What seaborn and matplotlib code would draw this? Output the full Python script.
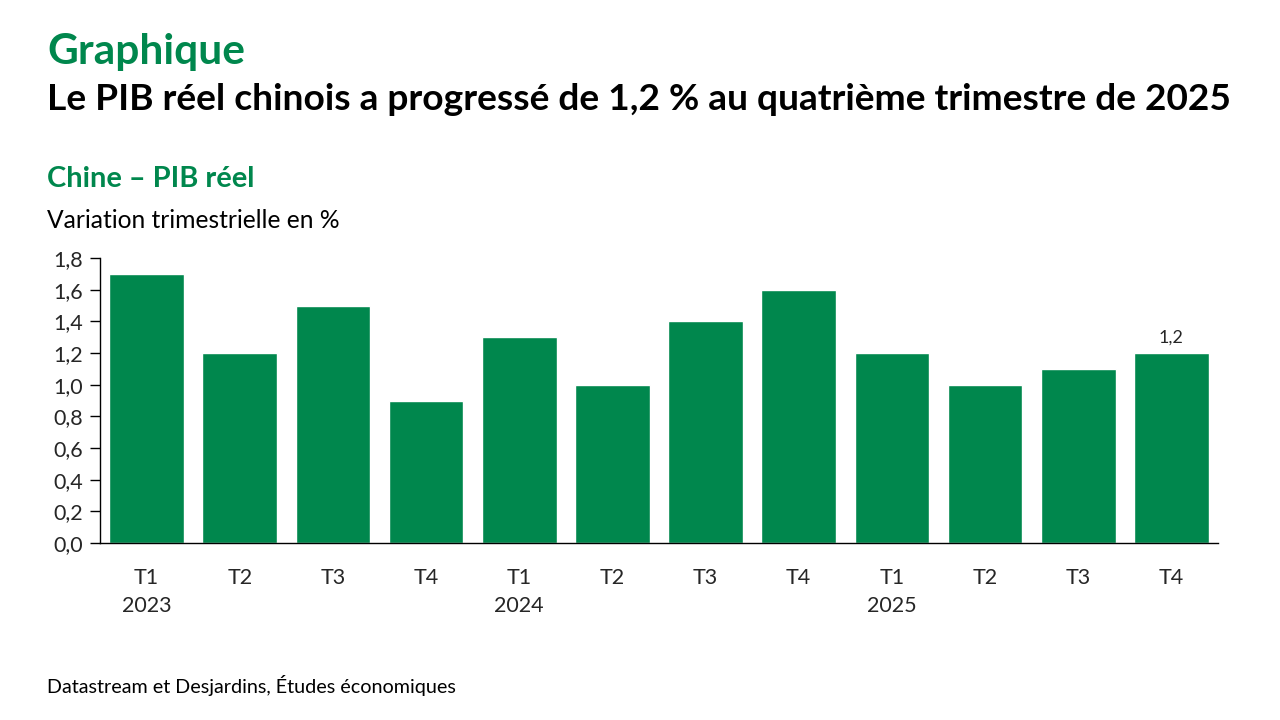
import matplotlib
matplotlib.use("Agg")
import matplotlib.pyplot as plt
import seaborn as sns
import pandas as pd

quarters = ["T1", "T2", "T3", "T4", "T1", "T2", "T3", "T4", "T1", "T2", "T3", "T4"]
years = ["2023", "", "", "", "2024", "", "", "", "2025", "", "", ""]
values = [1.7, 1.2, 1.5, 0.9, 1.3, 1.0, 1.4, 1.6, 1.2, 1.0, 1.1, 1.2]
yticks = [0.0, 0.2, 0.4, 0.6, 0.8, 1.0, 1.2, 1.4, 1.6, 1.8]

GREEN = "#00874D"
sns.set_theme(style="white")
plt.rcParams['font.family'] = ['Lato', 'DejaVu Sans']

labels = [f"{q}\n{y}" if y else q for q, y in zip(quarters, years)]
df = pd.DataFrame({"idx": [str(i) for i in range(len(values))], "val": values})

fig = plt.figure(figsize=(12.8, 7.2), dpi=100)
ax = fig.add_axes([100/1280, 1-543/720, 1118/1280, 285/720])
sns.barplot(data=df, x="idx", y="val", color=GREEN, saturation=1, width=0.8, ax=ax)

ax.set_ylim(0, 1.8)
ax.set_xlim(-0.5, len(values) - 0.5)
ax.set_yticks(yticks)
ax.set_yticklabels([f"{v:.1f}".replace(".", ",") for v in yticks], fontsize=15.5)
ax.set_xticks(range(len(values)))
ax.set_xticklabels(labels, fontsize=15.5, linespacing=1.5)
ax.tick_params(axis="y", which="major", left=True, length=7, width=1, color="black", pad=5)
ax.tick_params(axis="x", bottom=False, pad=12)
ax.set_xlabel("")
ax.set_ylabel("")
for s in ["top", "right"]:
    ax.spines[s].set_visible(False)
for s in ["left", "bottom"]:
    ax.spines[s].set_color("black")
    ax.spines[s].set_linewidth(1)

last = len(values) - 1
ax.annotate(f"{values[last]:.1f}".replace(".", ","), (last, values[last]),
            xytext=(0, 5), textcoords="offset points", ha="center", va="bottom", fontsize=13)

fig.text(47/1280, 1-52/720, "Graphique", color=GREEN, fontsize=30.5, fontweight="bold", va="center")
fig.text(47/1280, 1-100/720, "Le PIB réel chinois a progressé de 1,2 % au quatrième trimestre de 2025",
         color="black", fontsize=26.7, fontweight="bold", va="center")
fig.text(47/1280, 1-179/720, "Chine – PIB réel", color=GREEN, fontsize=20.9, fontweight="bold", va="center")
fig.text(47/1280, 1-220/720, "Variation trimestrielle en %", color="black", fontsize=17.7, va="center")
fig.text(47/1280, 1-685/720, "Datastream et Desjardins, Études économiques", color="black", fontsize=14.2, va="center")

fig.savefig("out.png", dpi=100)
